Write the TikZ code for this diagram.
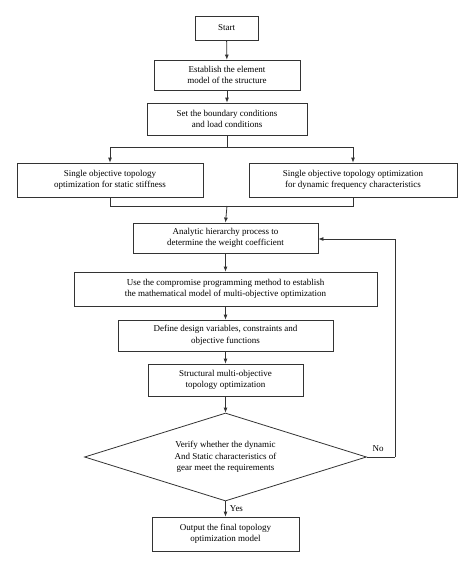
\documentclass[tikz,border=0pt]{standalone}
\usepackage{fontspec}
\setmainfont{Liberation Serif}
\usetikzlibrary{shapes.geometric,arrows.meta}
\begin{document}
\begin{tikzpicture}[x=1pt,y=-1pt,
  box/.style={draw=black!80,line width=0.8pt,rectangle,align=center,font=\fontsize{9}{11.5}\selectfont,inner sep=0pt},
  lab/.style={font=\fontsize{9}{11.5}\selectfont,inner sep=0pt},
  arr/.style={draw=black!80,line width=0.8pt,-{Latex[length=5pt,width=4pt]}},
  ln/.style={draw=black!80,line width=0.8pt}]
\useasboundingbox (0,0) rectangle (474,568);
\node[box,minimum width=63pt,minimum height=24pt] (start) at (226.5,28) {Start};
\node[box,minimum width=146pt,minimum height=30pt] (est) at (227,75) {Establish the element\\model of the structure};
\node[box,minimum width=160pt,minimum height=32pt] (set) at (227,119) {Set the boundary conditions\\and load conditions};
\node[box,minimum width=186pt,minimum height=34pt] (left) at (110,180) {Single objective topology\\optimization for static stiffness};
\node[box,minimum width=208pt,minimum height=34pt] (right) at (353,180) {Single objective topology optimization\\for dynamic frequency characteristics};
\node[box,minimum width=185pt,minimum height=30pt] (ahp) at (225.5,238) {Analytic hierarchy process to\\determine the weight coefficient};
\node[box,minimum width=303pt,minimum height=34pt] (comp) at (225.5,289) {Use the compromise programming method to establish\\the mathematical model of multi-objective optimization};
\node[box,minimum width=215pt,minimum height=31pt] (def) at (225.5,335.5) {Define design variables, constraints and\\objective functions};
\node[box,minimum width=155pt,minimum height=32pt] (str) at (225.5,380) {Structural multi-objective\\topology optimization};
\node[box,diamond,aspect=3.2,minimum width=282pt,minimum height=88pt,inner sep=0pt] (ver) at (225.5,457) {Verify whether the dynamic\\And Static characteristics of\\gear meet the requirements};
\node[box,minimum width=147pt,minimum height=34pt] (out) at (225.5,534) {Output the final topology\\optimization model};
\coordinate (split) at (227,147);
\coordinate (merge) at (227,206);
\coordinate (fb1) at (395,457);
\coordinate (fb2) at (395,239);
\draw[arr] (start) -- (est);
\draw[arr] (est) -- (set);
\draw[ln] (set.south) -- (split);
\draw[arr] (split) -| (left.north);
\draw[arr] (split) -| (right.north);
\draw[ln] (left.south) |- (merge);
\draw[ln] (right.south) |- (merge);
\draw[arr] (merge) -- (ahp.north);
\draw[arr] (ahp) -- (comp);
\draw[arr] (comp) -- (def);
\draw[arr] (def) -- (str);
\draw[arr] (str) -- (ver.north);
\draw[arr] (ver.south) -- node[lab,right=4pt,pos=0.45] (yes) {Yes} (out);
\draw[ln] (ver.east) -- (fb1);
\draw[arr] (fb1) -- (fb2) -- (ahp.east |- fb2);
\node[lab] (no) at (378,449) {No};
\end{tikzpicture}
\end{document}
